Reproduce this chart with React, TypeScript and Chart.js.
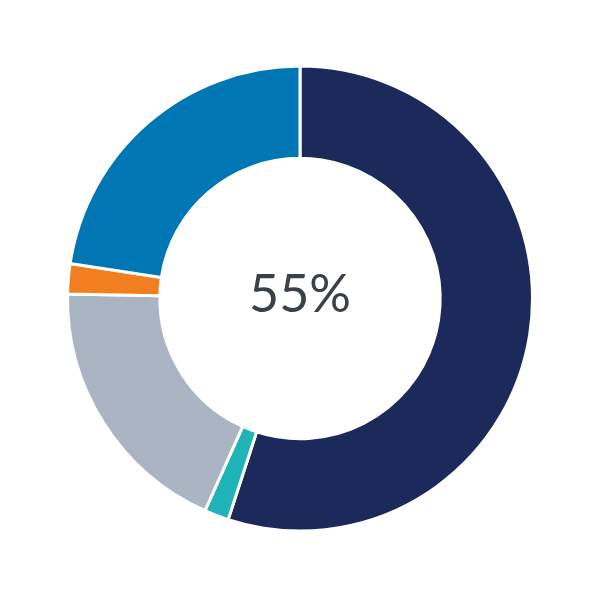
import React, { useEffect, useRef } from "react";
import { Chart, registerables } from "chart.js";

Chart.register(...registerables);

const labels = ["Navy", "Teal", "Gray", "Orange", "Blue"];
const values = [55, 1.7, 18.6, 2.1, 22.6];
const colors = ["#1b2a5a", "#1fb5b8", "#aab4c3", "#f27f1f", "#0076b4"];
const centerText = "55%";

const centerPlugin = {
  id: "centerText",
  afterDraw(chart: any) {
    const meta = chart.getDatasetMeta(0);
    const arc = meta.data[0];
    if (!arc) return;
    const { x, y } = arc;
    const ctx = chart.ctx;
    ctx.save();
    ctx.font = "400 52px Lato";
    ctx.fillStyle = "#3b4148";
    ctx.textAlign = "center";
    ctx.textBaseline = "middle";
    ctx.fillText(centerText, x, y - 3);
    ctx.restore();
  },
};

export default function App() {
  const ref = useRef<HTMLCanvasElement>(null);
  useEffect(() => {
    if (!ref.current) return;
    const chart = new Chart(ref.current, {
      type: "doughnut",
      data: {
        labels,
        datasets: [
          {
            data: values,
            backgroundColor: colors,
            borderColor: "#ffffff",
            borderWidth: 3,
          },
        ],
      },
      options: {
        animation: false,
        responsive: true,
        maintainAspectRatio: false,
        cutout: "60.3%",
        layout: { padding: { left: 66, right: 66, top: 64.5, bottom: 66.5 } },
        plugins: { legend: { display: false }, tooltip: { enabled: false } },
      },
      plugins: [centerPlugin],
    });
    return () => chart.destroy();
  }, []);
  return (
    <div style={{ position: "absolute", left: 0, top: 0, width: 600, height: 599 }}>
      <canvas ref={ref} />
    </div>
  );
}
